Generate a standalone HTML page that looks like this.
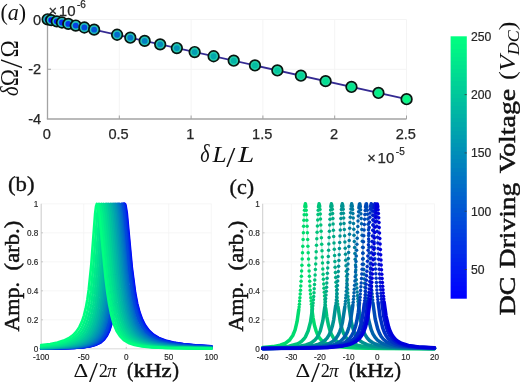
<!DOCTYPE html>
<html><head><meta charset="utf-8"><title>figure</title>
<style>html,body{margin:0;padding:0;background:#fff;width:520px;height:382px;overflow:hidden}svg{display:block}</style>
</head><body>
<svg width="520" height="382" viewBox="0 0 520 382">
<rect width="520" height="382" fill="#fff"/>
<line x1="119.30" y1="19.5" x2="119.30" y2="119.0" stroke="#f4f4f4" stroke-width="1"/>
<line x1="191.10" y1="19.5" x2="191.10" y2="119.0" stroke="#f4f4f4" stroke-width="1"/>
<line x1="262.90" y1="19.5" x2="262.90" y2="119.0" stroke="#f4f4f4" stroke-width="1"/>
<line x1="334.70" y1="19.5" x2="334.70" y2="119.0" stroke="#f4f4f4" stroke-width="1"/>
<line x1="406.50" y1="19.5" x2="406.50" y2="119.0" stroke="#f4f4f4" stroke-width="1"/>
<line x1="47.5" y1="19.50" x2="406.5" y2="19.50" stroke="#f4f4f4" stroke-width="1"/>
<line x1="47.5" y1="69.25" x2="406.5" y2="69.25" stroke="#f4f4f4" stroke-width="1"/>
<line x1="47.5" y1="19.5" x2="47.5" y2="119.0" stroke="#a3a3a3" stroke-width="1.3"/>
<line x1="46.85" y1="119.0" x2="406.5" y2="119.0" stroke="#a3a3a3" stroke-width="1.3"/>
<line x1="119.30" y1="119.0" x2="119.30" y2="115.5" stroke="#a3a3a3" stroke-width="1"/>
<line x1="191.10" y1="119.0" x2="191.10" y2="115.5" stroke="#a3a3a3" stroke-width="1"/>
<line x1="262.90" y1="119.0" x2="262.90" y2="115.5" stroke="#a3a3a3" stroke-width="1"/>
<line x1="334.70" y1="119.0" x2="334.70" y2="115.5" stroke="#a3a3a3" stroke-width="1"/>
<line x1="406.50" y1="119.0" x2="406.50" y2="115.5" stroke="#a3a3a3" stroke-width="1"/>
<line x1="47.5" y1="69.25" x2="51.0" y2="69.25" stroke="#a3a3a3" stroke-width="1"/>
<g font-family="'Liberation Sans', Arial, sans-serif" font-size="14.6" fill="#262626" stroke="#262626" stroke-width="0.25">
<text x="46.80" y="138.7" text-anchor="middle">0</text>
<text x="118.60" y="138.7" text-anchor="middle">0.5</text>
<text x="190.40" y="138.7" text-anchor="middle">1</text>
<text x="262.20" y="138.7" text-anchor="middle">1.5</text>
<text x="334.00" y="138.7" text-anchor="middle">2</text>
<text x="405.80" y="138.7" text-anchor="middle">2.5</text>
<text x="41.2" y="24.50" text-anchor="end">0</text>
<text x="41.2" y="74.25" text-anchor="end">-2</text>
<text x="41.2" y="124.00" text-anchor="end">-4</text>
<text x="48.4" y="15.6" font-size="14.7">&#215;</text>
<text x="58.8" y="15.6" font-size="15">10</text>
<text x="77.0" y="8.4" font-size="10">-6</text>
<text x="367.2" y="162.6" font-size="14.7">&#215;</text>
<text x="377.6" y="162.6" font-size="15">10</text>
<text x="395.8" y="155.4" font-size="10">-5</text>
</g>
<line x1="47.6" y1="19.3" x2="406.6" y2="99.2" stroke="#342a92" stroke-width="1.8"/>
<circle cx="47.60" cy="19.30" r="5.3" fill="#24bebc" stroke="#08150f" stroke-width="1.7"/>
<circle cx="47.60" cy="19.30" r="2.9" fill="#0413f8"/>
<circle cx="51.19" cy="20.10" r="5.3" fill="#24bebc" stroke="#08150f" stroke-width="1.7"/>
<circle cx="51.19" cy="20.10" r="2.9" fill="#0413f8"/>
<circle cx="56.79" cy="21.35" r="5.3" fill="#24bebc" stroke="#08150f" stroke-width="1.7"/>
<circle cx="56.79" cy="21.35" r="2.9" fill="#0422f0"/>
<circle cx="61.96" cy="22.50" r="5.3" fill="#24bebc" stroke="#08150f" stroke-width="1.7"/>
<circle cx="61.96" cy="22.50" r="2.9" fill="#042cec"/>
<circle cx="68.28" cy="23.90" r="5.3" fill="#24bebc" stroke="#08150f" stroke-width="1.7"/>
<circle cx="68.28" cy="23.90" r="2.9" fill="#0437e6"/>
<circle cx="75.75" cy="25.56" r="5.3" fill="#24bfbb" stroke="#08150f" stroke-width="1.7"/>
<circle cx="75.75" cy="25.56" r="2.9" fill="#0441e2"/>
<circle cx="84.36" cy="27.48" r="5.3" fill="#24bfbb" stroke="#08150f" stroke-width="1.7"/>
<circle cx="84.36" cy="27.48" r="2.9" fill="#044bdc"/>
<circle cx="94.13" cy="29.66" r="5.3" fill="#24c0ba" stroke="#08150f" stroke-width="1.7"/>
<circle cx="94.13" cy="29.66" r="2.9" fill="#0456d7"/>
<circle cx="117.10" cy="34.77" r="5.3" fill="#23c1b8" stroke="#08150f" stroke-width="1.7"/>
<circle cx="117.10" cy="34.77" r="2.9" fill="#046acd"/>
<circle cx="130.31" cy="37.71" r="5.3" fill="#23c2b7" stroke="#08150f" stroke-width="1.7"/>
<circle cx="130.31" cy="37.71" r="2.9" fill="#0475c7"/>
<circle cx="144.67" cy="40.90" r="5.3" fill="#23c4b5" stroke="#08150f" stroke-width="1.7"/>
<circle cx="144.67" cy="40.90" r="2.9" fill="#047fc2"/>
<circle cx="160.18" cy="44.36" r="5.3" fill="#23c5b3" stroke="#08150f" stroke-width="1.7"/>
<circle cx="160.18" cy="44.36" r="2.9" fill="#0489bd"/>
<circle cx="176.84" cy="48.06" r="5.3" fill="#23c7b1" stroke="#08150f" stroke-width="1.7"/>
<circle cx="176.84" cy="48.06" r="2.9" fill="#0494b7"/>
<circle cx="194.65" cy="52.03" r="5.3" fill="#22c9af" stroke="#08150f" stroke-width="1.7"/>
<circle cx="194.65" cy="52.03" r="2.9" fill="#039eb2"/>
<circle cx="213.60" cy="56.25" r="5.3" fill="#22cbad" stroke="#08150f" stroke-width="1.7"/>
<circle cx="213.60" cy="56.25" r="2.9" fill="#03a8ad"/>
<circle cx="233.71" cy="60.72" r="5.3" fill="#22cdaa" stroke="#08150f" stroke-width="1.7"/>
<circle cx="233.71" cy="60.72" r="2.9" fill="#03b3a7"/>
<circle cx="254.96" cy="65.45" r="5.3" fill="#21cfa7" stroke="#08150f" stroke-width="1.7"/>
<circle cx="254.96" cy="65.45" r="2.9" fill="#03bda2"/>
<circle cx="277.36" cy="70.44" r="5.3" fill="#21d2a3" stroke="#08150f" stroke-width="1.7"/>
<circle cx="277.36" cy="70.44" r="2.9" fill="#03c79d"/>
<circle cx="300.91" cy="75.68" r="5.3" fill="#20d5a0" stroke="#08150f" stroke-width="1.7"/>
<circle cx="300.91" cy="75.68" r="2.9" fill="#03d297"/>
<circle cx="325.61" cy="81.17" r="5.3" fill="#20d99c" stroke="#08150f" stroke-width="1.7"/>
<circle cx="325.61" cy="81.17" r="2.9" fill="#03dd91"/>
<circle cx="351.46" cy="86.93" r="5.3" fill="#1fdc98" stroke="#08150f" stroke-width="1.7"/>
<circle cx="351.46" cy="86.93" r="2.9" fill="#03e78c"/>
<circle cx="378.45" cy="92.94" r="5.3" fill="#1fe093" stroke="#08150f" stroke-width="1.7"/>
<circle cx="378.45" cy="92.94" r="2.9" fill="#03f286"/>
<circle cx="406.60" cy="99.20" r="5.3" fill="#1ee48e" stroke="#08150f" stroke-width="1.7"/>
<circle cx="406.60" cy="99.20" r="2.9" fill="#03fc81"/>
<text x="0.4" y="20.3" font-family="'Liberation Serif', 'Times New Roman', serif" font-size="22.5" fill="#111" textLength="25.6" lengthAdjust="spacingAndGlyphs">(<tspan font-style="italic">a</tspan>)</text>
<text transform="translate(17.8,96.0) rotate(-90)" font-family="'Liberation Serif', 'Times New Roman', serif" font-size="24.5" fill="#111" font-style="italic" textLength="9.56" lengthAdjust="spacingAndGlyphs">δ</text>
<text transform="translate(17.5,86.3) rotate(-90)" font-family="'Liberation Serif', 'Times New Roman', serif" font-size="24.4" fill="#111"  textLength="17.3" lengthAdjust="spacingAndGlyphs">Ω</text>
<text transform="translate(22.4,68.2) rotate(-90)" font-family="'Liberation Serif', 'Times New Roman', serif" font-size="31" fill="#111"  textLength="9.04" lengthAdjust="spacingAndGlyphs">/</text>
<text transform="translate(17.5,57.6) rotate(-90)" font-family="'Liberation Serif', 'Times New Roman', serif" font-size="24.4" fill="#111"  textLength="17.3" lengthAdjust="spacingAndGlyphs">Ω</text>
<text x="200.2" y="162.3" font-family="'Liberation Serif', 'Times New Roman', serif" font-size="24.5" fill="#111" font-style="italic" textLength="9.27" lengthAdjust="spacingAndGlyphs">δ</text>
<text x="212.5" y="162.0" font-family="'Liberation Serif', 'Times New Roman', serif" font-size="22.5" fill="#111" font-style="italic" textLength="14.12" lengthAdjust="spacingAndGlyphs">L</text>
<text x="226.3" y="166.5" font-family="'Liberation Serif', 'Times New Roman', serif" font-size="30" fill="#111"  textLength="9.1" lengthAdjust="spacingAndGlyphs">/</text>
<text x="238.0" y="162.0" font-family="'Liberation Serif', 'Times New Roman', serif" font-size="22.5" fill="#111" font-style="italic" textLength="16.23" lengthAdjust="spacingAndGlyphs">L</text>
<line x1="41.20" y1="203.8" x2="41.20" y2="348.8" stroke="#f4f4f4" stroke-width="0.8"/>
<line x1="83.73" y1="203.8" x2="83.73" y2="348.8" stroke="#f4f4f4" stroke-width="0.8"/>
<line x1="126.25" y1="203.8" x2="126.25" y2="348.8" stroke="#f4f4f4" stroke-width="0.8"/>
<line x1="168.78" y1="203.8" x2="168.78" y2="348.8" stroke="#f4f4f4" stroke-width="0.8"/>
<line x1="211.30" y1="203.8" x2="211.30" y2="348.8" stroke="#f4f4f4" stroke-width="0.8"/>
<line x1="41.2" y1="319.80" x2="211.3" y2="319.80" stroke="#f4f4f4" stroke-width="0.8"/>
<line x1="41.2" y1="290.80" x2="211.3" y2="290.80" stroke="#f4f4f4" stroke-width="0.8"/>
<line x1="41.2" y1="261.80" x2="211.3" y2="261.80" stroke="#f4f4f4" stroke-width="0.8"/>
<line x1="41.2" y1="232.80" x2="211.3" y2="232.80" stroke="#f4f4f4" stroke-width="0.8"/>
<line x1="41.2" y1="203.80" x2="211.3" y2="203.80" stroke="#f4f4f4" stroke-width="0.8"/>
<line x1="41.2" y1="203.8" x2="41.2" y2="348.8" stroke="#c4c4c4" stroke-width="0.8"/>
<line x1="41.2" y1="348.8" x2="211.3" y2="348.8" stroke="#d0d0d0" stroke-width="0.8"/>
<line x1="41.20" y1="348.8" x2="41.20" y2="347.00" stroke="#b8b8b8" stroke-width="0.7"/>
<line x1="83.73" y1="348.8" x2="83.73" y2="347.00" stroke="#b8b8b8" stroke-width="0.7"/>
<line x1="126.25" y1="348.8" x2="126.25" y2="347.00" stroke="#b8b8b8" stroke-width="0.7"/>
<line x1="168.78" y1="348.8" x2="168.78" y2="347.00" stroke="#b8b8b8" stroke-width="0.7"/>
<line x1="211.30" y1="348.8" x2="211.30" y2="347.00" stroke="#b8b8b8" stroke-width="0.7"/>
<line x1="41.2" y1="319.80" x2="43.00" y2="319.80" stroke="#b8b8b8" stroke-width="0.7"/>
<line x1="41.2" y1="290.80" x2="43.00" y2="290.80" stroke="#b8b8b8" stroke-width="0.7"/>
<line x1="41.2" y1="261.80" x2="43.00" y2="261.80" stroke="#b8b8b8" stroke-width="0.7"/>
<line x1="41.2" y1="232.80" x2="43.00" y2="232.80" stroke="#b8b8b8" stroke-width="0.7"/>
<g font-family="'Liberation Sans', Arial, sans-serif" font-size="8.2" fill="#262626" stroke="#262626" stroke-width="0.15">
<text x="41.20" y="360" text-anchor="middle">-100</text>
<text x="83.73" y="360" text-anchor="middle">-50</text>
<text x="126.25" y="360" text-anchor="middle">0</text>
<text x="168.78" y="360" text-anchor="middle">50</text>
<text x="211.30" y="360" text-anchor="middle">100</text>
<text x="38.40" y="351.80" text-anchor="end">0</text>
<text x="38.40" y="322.80" text-anchor="end">0.2</text>
<text x="38.40" y="293.80" text-anchor="end">0.4</text>
<text x="38.40" y="264.80" text-anchor="end">0.6</text>
<text x="38.40" y="235.80" text-anchor="end">0.8</text>
<text x="38.40" y="206.80" text-anchor="end">1</text>
</g>
<line x1="262.70" y1="203.8" x2="262.70" y2="348.8" stroke="#f4f4f4" stroke-width="0.8"/>
<line x1="291.33" y1="203.8" x2="291.33" y2="348.8" stroke="#f4f4f4" stroke-width="0.8"/>
<line x1="319.97" y1="203.8" x2="319.97" y2="348.8" stroke="#f4f4f4" stroke-width="0.8"/>
<line x1="348.60" y1="203.8" x2="348.60" y2="348.8" stroke="#f4f4f4" stroke-width="0.8"/>
<line x1="377.23" y1="203.8" x2="377.23" y2="348.8" stroke="#f4f4f4" stroke-width="0.8"/>
<line x1="405.87" y1="203.8" x2="405.87" y2="348.8" stroke="#f4f4f4" stroke-width="0.8"/>
<line x1="434.50" y1="203.8" x2="434.50" y2="348.8" stroke="#f4f4f4" stroke-width="0.8"/>
<line x1="262.7" y1="319.80" x2="434.5" y2="319.80" stroke="#f4f4f4" stroke-width="0.8"/>
<line x1="262.7" y1="290.80" x2="434.5" y2="290.80" stroke="#f4f4f4" stroke-width="0.8"/>
<line x1="262.7" y1="261.80" x2="434.5" y2="261.80" stroke="#f4f4f4" stroke-width="0.8"/>
<line x1="262.7" y1="232.80" x2="434.5" y2="232.80" stroke="#f4f4f4" stroke-width="0.8"/>
<line x1="262.7" y1="203.80" x2="434.5" y2="203.80" stroke="#f4f4f4" stroke-width="0.8"/>
<line x1="262.7" y1="203.8" x2="262.7" y2="348.8" stroke="#c4c4c4" stroke-width="0.8"/>
<line x1="262.7" y1="348.8" x2="434.5" y2="348.8" stroke="#d0d0d0" stroke-width="0.8"/>
<line x1="262.70" y1="348.8" x2="262.70" y2="347.00" stroke="#b8b8b8" stroke-width="0.7"/>
<line x1="291.33" y1="348.8" x2="291.33" y2="347.00" stroke="#b8b8b8" stroke-width="0.7"/>
<line x1="319.97" y1="348.8" x2="319.97" y2="347.00" stroke="#b8b8b8" stroke-width="0.7"/>
<line x1="348.60" y1="348.8" x2="348.60" y2="347.00" stroke="#b8b8b8" stroke-width="0.7"/>
<line x1="377.23" y1="348.8" x2="377.23" y2="347.00" stroke="#b8b8b8" stroke-width="0.7"/>
<line x1="405.87" y1="348.8" x2="405.87" y2="347.00" stroke="#b8b8b8" stroke-width="0.7"/>
<line x1="434.50" y1="348.8" x2="434.50" y2="347.00" stroke="#b8b8b8" stroke-width="0.7"/>
<line x1="262.7" y1="319.80" x2="264.50" y2="319.80" stroke="#b8b8b8" stroke-width="0.7"/>
<line x1="262.7" y1="290.80" x2="264.50" y2="290.80" stroke="#b8b8b8" stroke-width="0.7"/>
<line x1="262.7" y1="261.80" x2="264.50" y2="261.80" stroke="#b8b8b8" stroke-width="0.7"/>
<line x1="262.7" y1="232.80" x2="264.50" y2="232.80" stroke="#b8b8b8" stroke-width="0.7"/>
<g font-family="'Liberation Sans', Arial, sans-serif" font-size="8.2" fill="#262626" stroke="#262626" stroke-width="0.15">
<text x="262.70" y="360" text-anchor="middle">-40</text>
<text x="291.33" y="360" text-anchor="middle">-30</text>
<text x="319.97" y="360" text-anchor="middle">-20</text>
<text x="348.60" y="360" text-anchor="middle">-10</text>
<text x="377.23" y="360" text-anchor="middle">0</text>
<text x="405.87" y="360" text-anchor="middle">10</text>
<text x="434.50" y="360" text-anchor="middle">20</text>
<text x="259.90" y="351.80" text-anchor="end">0</text>
<text x="259.90" y="322.80" text-anchor="end">0.2</text>
<text x="259.90" y="293.80" text-anchor="end">0.4</text>
<text x="259.90" y="264.80" text-anchor="end">0.6</text>
<text x="259.90" y="235.80" text-anchor="end">0.8</text>
<text x="259.90" y="206.80" text-anchor="end">1</text>
</g>
<g fill="none" stroke-width="2.6" stroke-linejoin="round" stroke-linecap="round">
<polyline stroke="#0000ff" points="41.2,348.6 73.9,347.9 83.5,347.2 90.5,346.2 96.1,344.7 100.6,342.5 104.1,339.5 107.0,335.5 109.5,330.2 111.6,323.4 113.5,314.7 115.2,303.8 118.0,276.9 122.7,215.2 123.7,206.8 124.2,204.6 124.7,203.8 125.2,204.4 125.7,206.3 126.8,213.2 131.8,267.1 135.2,293.1 137.2,303.6 139.5,312.3 142.2,319.6 145.1,325.4 148.9,330.5 153.4,334.6 158.8,337.9 165.5,340.5 173.5,342.6 183.4,344.1 195.7,345.4 211.3,346.3"/>
<polyline stroke="#0011f6" points="41.2,348.6 73.7,347.9 83.2,347.2 90.3,346.2 95.9,344.6 100.2,342.4 103.8,339.3 106.7,335.3 109.2,329.9 111.3,323.0 113.2,314.2 114.8,303.7 117.6,276.8 122.3,215.0 123.3,206.7 123.8,204.5 124.3,203.8 124.8,204.5 125.3,206.4 126.3,213.3 131.4,267.3 134.8,293.3 136.8,303.8 139.1,312.6 141.7,319.8 144.7,325.6 148.4,330.7 153.0,334.8 158.4,338.1 165.0,340.7 173.1,342.7 183.1,344.3 195.6,345.5 211.3,346.4"/>
<polyline stroke="#001cf1" points="41.2,348.6 73.3,347.9 82.8,347.2 89.8,346.1 95.5,344.5 99.8,342.3 103.4,339.3 106.3,335.2 108.7,329.9 110.9,323.0 112.7,314.3 114.3,303.8 117.2,276.0 121.8,215.3 122.8,206.8 123.4,204.6 123.9,203.8 124.4,204.4 124.9,206.2 125.9,213.1 131.0,267.9 134.4,293.7 136.5,304.2 138.8,312.9 141.4,320.1 144.4,325.9 148.2,331.1 152.7,335.1 158.1,338.4 164.8,340.9 172.9,342.9 182.9,344.4 195.5,345.6 211.3,346.5"/>
<polyline stroke="#0028eb" points="41.2,348.5 73.0,347.8 82.4,347.1 89.4,346.1 95.0,344.5 99.4,342.2 102.9,339.1 105.8,335.0 108.3,329.6 110.4,322.7 112.3,313.9 113.9,303.3 116.7,276.3 121.3,215.5 122.3,206.9 122.8,204.6 123.4,203.8 123.9,204.4 124.4,206.2 125.4,212.9 130.5,267.7 133.9,293.8 135.9,304.3 138.2,313.1 140.9,320.3 143.9,326.3 147.8,331.4 152.3,335.4 157.7,338.6 164.4,341.1 172.5,343.1 182.6,344.6 195.3,345.7 211.3,346.6"/>
<polyline stroke="#0033e6" points="41.2,348.5 72.7,347.8 82.0,347.1 89.0,346.0 94.5,344.4 98.9,342.1 102.4,339.0 105.3,334.8 107.7,329.6 109.8,322.7 111.7,313.9 113.3,303.4 116.1,276.5 120.7,215.6 121.7,207.0 122.3,204.7 122.8,203.8 123.3,204.4 123.8,206.1 124.9,213.5 130.0,268.4 133.4,294.3 135.4,304.8 137.7,313.5 140.4,320.8 143.4,326.7 147.3,331.7 151.8,335.7 157.2,338.9 163.9,341.4 172.1,343.3 182.3,344.8 195.1,345.9 211.3,346.7"/>
<polyline stroke="#003ee0" points="41.2,348.5 72.2,347.8 81.4,347.0 88.3,345.9 93.8,344.3 98.2,342.0 101.8,338.9 104.6,334.7 107.1,329.3 109.2,322.3 111.1,313.4 112.7,302.8 115.5,275.6 120.0,215.7 121.1,207.0 121.6,204.7 122.1,203.8 122.6,204.3 123.1,206.1 124.2,213.4 129.3,268.3 131.0,282.9 132.8,294.9 134.8,305.4 137.1,314.1 139.8,321.2 142.8,327.1 146.7,332.1 151.2,336.0 156.7,339.2 163.4,341.6 171.7,343.5 181.9,344.9 194.8,346.0 211.3,346.8"/>
<polyline stroke="#004ada" points="41.2,348.5 71.6,347.7 80.8,346.9 87.7,345.8 93.3,344.1 97.6,341.8 101.1,338.6 104.0,334.5 106.3,329.2 108.5,322.2 110.3,313.3 112.0,302.8 114.8,275.7 119.3,215.8 120.3,207.1 120.8,204.7 121.3,203.8 121.8,204.3 122.3,206.1 123.4,213.4 128.6,269.0 132.0,295.0 134.1,305.6 136.5,314.6 139.1,321.7 142.2,327.5 146.0,332.5 150.5,336.4 156.0,339.5 162.8,341.9 171.1,343.7 181.4,345.1 194.5,346.2 211.3,347.0"/>
<polyline stroke="#0060cf" points="41.2,348.4 70.5,347.6 79.4,346.8 86.2,345.6 91.6,343.8 95.9,341.5 99.4,338.2 102.3,334.0 104.6,328.6 106.8,321.6 108.6,312.6 110.3,302.0 113.1,274.8 117.6,214.8 118.6,206.5 119.1,204.4 119.5,203.8 120.0,204.4 120.6,206.1 121.7,213.3 126.9,269.8 128.6,284.4 130.4,296.4 132.5,306.8 134.8,315.8 137.5,322.8 140.5,328.5 144.4,333.4 149.0,337.2 154.5,340.2 161.4,342.5 169.8,344.3 180.4,345.6 193.9,346.6 211.3,347.3"/>
<polyline stroke="#006cc9" points="41.2,348.4 69.8,347.5 78.6,346.6 85.3,345.4 90.7,343.6 95.0,341.2 98.4,337.9 101.3,333.6 103.7,328.2 105.8,321.4 107.6,312.5 109.2,301.9 112.0,274.7 116.6,214.7 117.6,206.4 118.1,204.3 118.5,203.8 119.0,204.4 119.5,206.1 120.7,214.1 125.9,269.9 127.6,284.5 129.4,296.6 131.5,307.5 133.8,316.1 136.5,323.2 139.6,329.1 143.4,333.9 148.0,337.6 153.6,340.6 160.5,342.9 169.0,344.5 179.7,345.8 193.4,346.7 211.3,347.4"/>
<polyline stroke="#0077c3" points="41.2,348.3 69.1,347.4 77.8,346.5 84.4,345.2 89.8,343.4 94.0,340.9 97.4,337.6 100.3,333.2 102.7,327.7 104.7,320.8 106.5,312.3 108.1,301.7 110.9,274.6 115.4,214.6 116.5,206.3 117.0,204.3 117.4,203.8 117.9,204.4 118.4,206.2 119.6,214.2 124.9,270.8 126.6,285.3 128.4,297.4 130.5,308.2 132.8,316.7 135.4,323.8 138.6,329.6 142.4,334.3 147.0,338.1 152.6,341.0 159.6,343.2 168.2,344.8 179.1,346.0 193.0,346.9 211.3,347.6"/>
<polyline stroke="#0082be" points="41.2,348.3 68.3,347.2 76.9,346.3 83.5,345.0 88.7,343.1 92.9,340.6 96.3,337.2 99.2,332.8 101.6,327.2 103.6,320.1 105.4,311.5 107.0,300.8 109.8,274.4 114.2,215.3 115.2,206.7 115.7,204.5 116.1,203.8 116.6,204.3 117.2,206.3 118.3,213.6 123.8,271.7 125.5,286.1 127.3,298.1 129.4,308.9 131.7,317.4 134.3,324.4 137.5,330.1 141.3,334.8 145.9,338.5 151.6,341.4 158.6,343.5 167.2,345.1 178.3,346.3 192.5,347.1 211.3,347.7"/>
<polyline stroke="#008eb8" points="41.2,348.2 67.5,347.1 75.9,346.1 82.4,344.8 87.6,342.9 91.7,340.3 95.1,336.8 98.0,332.3 100.3,326.8 102.4,319.8 104.1,311.2 105.8,300.5 108.5,274.2 112.9,215.1 113.9,206.5 114.4,204.4 114.9,203.8 115.4,204.4 116.0,206.4 117.1,214.4 122.5,271.8 124.2,286.3 126.0,298.4 128.1,309.2 130.4,317.8 133.1,325.0 136.3,330.7 140.1,335.3 144.8,339.0 150.4,341.7 157.5,343.8 166.2,345.3 177.4,346.5 191.9,347.3 211.3,347.8"/>
<polyline stroke="#0099b2" points="41.2,348.1 55.8,347.6 66.6,346.9 74.9,345.9 81.3,344.5 86.4,342.5 90.5,339.8 93.9,336.3 96.7,331.7 99.0,326.2 101.1,319.1 102.9,310.3 104.4,300.2 107.1,273.9 111.5,214.8 112.6,206.4 113.1,204.3 113.5,203.8 114.0,204.4 114.6,206.5 115.8,214.6 121.1,271.9 122.9,287.2 124.7,299.2 126.8,310.0 129.1,318.5 131.9,325.6 135.0,331.2 138.8,335.8 143.5,339.4 149.2,342.1 156.3,344.1 165.1,345.6 176.5,346.7 191.4,347.4 211.3,347.9"/>
<polyline stroke="#00a4ad" points="41.2,348.0 55.3,347.5 65.8,346.7 73.8,345.7 80.1,344.2 85.1,342.1 89.2,339.4 92.6,335.7 95.4,331.1 97.7,325.5 99.7,318.2 101.5,309.4 103.0,299.1 105.8,272.5 110.1,214.5 111.0,206.6 111.5,204.4 112.0,203.8 112.5,204.3 113.1,206.3 114.3,214.1 119.8,272.9 121.6,288.0 123.4,300.0 125.5,310.7 127.8,319.1 130.5,326.2 133.6,331.8 137.5,336.3 142.2,339.8 147.9,342.5 155.1,344.4 164.0,345.9 175.6,346.9 190.8,347.6 211.3,348.1"/>
<polyline stroke="#00b0a7" points="41.2,347.9 54.7,347.3 64.8,346.5 72.7,345.3 78.8,343.8 83.8,341.6 87.8,338.8 91.1,335.2 93.9,330.4 96.2,324.7 98.2,317.7 100.0,308.9 101.5,298.6 104.2,272.1 108.6,214.1 109.5,206.4 110.0,204.3 110.4,203.8 110.9,204.4 111.5,206.5 112.7,214.3 118.3,273.0 120.0,288.2 121.8,300.2 124.0,311.1 126.3,319.8 129.1,326.8 132.2,332.3 136.0,336.8 140.7,340.2 146.5,342.8 153.7,344.7 162.7,346.1 174.5,347.1 211.3,348.2"/>
<polyline stroke="#00bba2" points="41.2,347.7 54.1,347.1 63.9,346.2 71.5,345.0 77.5,343.3 82.4,341.1 86.4,338.1 89.8,334.3 92.5,329.5 94.7,323.8 96.7,316.7 98.4,307.8 100.0,297.4 102.6,271.6 106.9,214.6 107.8,206.6 108.3,204.4 108.7,203.8 109.2,204.3 109.8,206.3 111.1,214.6 116.7,274.0 118.5,289.1 120.3,301.0 122.4,311.8 124.8,320.5 127.5,327.4 130.8,333.0 134.7,337.4 139.3,340.7 145.1,343.2 152.4,345.0 161.5,346.3 173.4,347.2 211.3,348.2"/>
<polyline stroke="#00c69c" points="41.2,347.5 53.4,346.8 62.9,345.8 70.3,344.5 76.2,342.8 81.0,340.4 84.9,337.4 88.1,333.5 90.9,328.6 93.1,322.9 95.0,315.7 96.7,307.1 98.3,296.8 100.9,271.0 105.2,214.1 106.1,206.3 106.9,203.8 107.5,204.5 108.1,206.5 109.4,214.9 115.0,274.2 116.8,289.4 118.7,301.9 120.8,312.5 123.2,321.1 125.9,328.0 129.1,333.5 133.1,337.9 137.7,341.1 143.5,343.5 150.8,345.3 160.0,346.5 172.2,347.4 211.3,348.3"/>
<polyline stroke="#00d296" points="41.2,347.2 52.8,346.4 61.8,345.4 68.9,344.0 74.6,342.2 79.3,339.8 83.2,336.7 86.4,332.7 89.2,327.7 91.4,321.8 93.3,314.9 95.0,306.3 96.5,296.0 99.1,270.3 103.3,214.5 104.2,206.5 104.7,204.3 105.2,203.8 105.8,204.6 106.3,206.7 107.6,215.2 113.2,274.4 115.0,289.6 116.9,302.2 119.0,312.9 121.5,321.8 124.2,328.6 127.4,334.1 131.4,338.3 136.0,341.5 141.8,343.8 149.2,345.6 158.6,346.7 170.9,347.5 211.3,348.4"/>
<polyline stroke="#00dd90" points="41.2,346.9 52.2,346.0 60.8,344.9 67.7,343.4 73.3,341.4 77.9,338.9 81.6,335.7 84.7,331.6 87.5,326.4 89.7,320.4 91.5,313.2 93.2,304.9 94.7,294.5 97.3,268.5 101.4,213.9 102.4,206.2 102.8,204.4 103.2,203.8 103.8,204.5 104.4,206.6 105.7,214.8 111.5,275.5 113.2,290.5 115.1,303.0 117.2,313.6 119.7,322.4 122.4,329.2 125.7,334.6 129.6,338.8 134.2,341.9 140.1,344.2 147.6,345.8 157.0,346.9 169.5,347.7 211.3,348.5"/>
<polyline stroke="#00e88b" points="41.2,346.4 51.5,345.5 59.7,344.2 66.4,342.6 71.7,340.5 76.2,337.9 79.9,334.5 83.0,330.3 85.7,325.0 87.8,319.0 89.7,311.8 91.3,303.4 92.8,292.8 95.4,267.6 99.4,214.2 100.3,206.3 100.7,204.4 101.2,203.8 101.8,204.5 102.4,206.5 103.7,215.2 109.6,276.5 111.4,291.4 113.2,303.8 115.4,314.3 117.8,323.1 120.6,329.9 123.9,335.2 127.8,339.3 132.5,342.3 138.3,344.5 145.9,346.1 155.4,347.1 168.2,347.8 211.3,348.5"/>
<polyline stroke="#00f485" points="41.2,345.9 50.8,344.8 58.6,343.4 65.0,341.7 70.2,339.5 74.5,336.7 78.2,333.1 81.3,328.7 83.8,323.4 85.9,317.5 87.7,310.2 89.3,301.7 90.8,291.7 93.3,266.6 97.3,213.5 98.2,206.4 99.0,203.8 99.6,204.5 100.2,206.4 101.6,215.0 107.5,276.8 109.3,291.7 111.2,304.1 113.4,315.0 115.8,323.4 118.6,330.3 121.9,335.7 125.7,339.6 130.5,342.6 136.5,344.8 144.0,346.3 153.6,347.3 166.6,347.9 211.3,348.6"/>
<polyline stroke="#00ff80" points="41.2,345.1 50.2,344.0 57.5,342.5 63.6,340.6 68.6,338.2 72.8,335.3 76.3,331.6 79.3,327.1 81.9,321.6 83.9,315.6 85.7,308.4 87.3,299.8 88.7,289.7 91.2,265.5 95.1,213.6 96.0,206.4 96.8,203.8 97.4,204.4 98.1,206.7 99.5,215.4 105.4,277.0 107.3,292.6 109.2,304.8 111.4,315.7 113.8,324.3 116.6,331.0 119.9,336.1 123.8,340.1 128.5,342.9 134.5,345.0 142.1,346.5 151.8,347.4 164.9,348.0 211.3,348.6"/>
</g>
<polyline fill="none" stroke="#00db6e" stroke-opacity="0.55" stroke-width="0.7" points="262.7,347.5 270.7,346.9 277.0,346.0 281.9,344.7 285.9,342.9 289.0,340.6 291.6,337.4 293.6,333.7 295.3,328.8 296.8,322.9 297.9,316.2 299.9,297.8 301.6,270.9 304.2,214.7 304.8,206.7 305.4,203.8 305.9,206.7 306.5,214.7 309.9,285.9 311.9,309.6 313.4,319.8 315.4,328.8 317.7,334.9 319.1,337.4 320.8,339.7 322.5,341.3 324.5,342.7 329.1,344.8 335.4,346.3 344.0,347.3 355.5,347.9 372.1,348.3 434.5,348.7"/>
<polyline fill="none" stroke="#00db6e" stroke-width="3.5" stroke-linejoin="round" stroke-linecap="round" points="262.7,347.5 273.0,346.6 280.2,345.2 285.6,343.1 289.6,340.0 292.8,335.5 295.1,329.8 297.1,321.4 298.8,309.6"/>
<polyline fill="none" stroke="#00db6e" stroke-width="3.5" stroke-linejoin="round" stroke-linecap="round" points="304.8,206.7 305.4,203.8 305.9,206.7"/>
<polyline fill="none" stroke="#00db6e" stroke-width="3.5" stroke-linejoin="round" stroke-linecap="round" points="311.9,309.6 313.1,318.1 314.5,325.5 316.0,330.6 317.7,334.9 319.7,338.3 322.3,341.1 325.4,343.2 329.4,344.9 334.0,346.0 339.4,346.8 355.8,347.9 383.2,348.4 434.5,348.7"/>
<g fill="#00db6e"><circle cx="299.1" cy="307.0" r="1.75"/><circle cx="299.4" cy="304.2" r="1.75"/><circle cx="299.6" cy="301.1" r="1.75"/><circle cx="299.9" cy="297.8" r="1.75"/><circle cx="300.2" cy="294.1" r="1.75"/><circle cx="300.5" cy="290.2" r="1.75"/><circle cx="300.8" cy="285.9" r="1.75"/><circle cx="301.1" cy="281.3" r="1.75"/><circle cx="301.4" cy="276.3" r="1.75"/><circle cx="301.6" cy="270.9" r="1.75"/><circle cx="301.9" cy="265.2" r="1.75"/><circle cx="302.2" cy="259.1" r="1.75"/><circle cx="302.5" cy="252.8" r="1.75"/><circle cx="302.8" cy="246.2" r="1.75"/><circle cx="303.1" cy="239.5" r="1.75"/><circle cx="303.4" cy="232.8" r="1.75"/><circle cx="303.6" cy="226.3" r="1.75"/><circle cx="303.9" cy="220.2" r="1.75"/><circle cx="304.2" cy="214.7" r="1.75"/><circle cx="304.5" cy="210.2" r="1.75"/><circle cx="306.2" cy="210.2" r="1.75"/><circle cx="306.5" cy="214.7" r="1.75"/><circle cx="306.8" cy="220.2" r="1.75"/><circle cx="307.1" cy="226.3" r="1.75"/><circle cx="307.4" cy="232.8" r="1.75"/><circle cx="307.7" cy="239.5" r="1.75"/><circle cx="307.9" cy="246.2" r="1.75"/><circle cx="308.2" cy="252.8" r="1.75"/><circle cx="308.5" cy="259.1" r="1.75"/><circle cx="308.8" cy="265.2" r="1.75"/><circle cx="309.1" cy="270.9" r="1.75"/><circle cx="309.4" cy="276.3" r="1.75"/><circle cx="309.7" cy="281.3" r="1.75"/><circle cx="309.9" cy="285.9" r="1.75"/><circle cx="310.2" cy="290.2" r="1.75"/><circle cx="310.5" cy="294.1" r="1.75"/><circle cx="310.8" cy="297.8" r="1.75"/><circle cx="311.1" cy="301.1" r="1.75"/><circle cx="311.4" cy="304.2" r="1.75"/><circle cx="311.7" cy="307.0" r="1.75"/></g>
<polyline fill="none" stroke="#00c37a" stroke-opacity="0.55" stroke-width="0.7" points="262.7,348.0 274.7,347.6 283.6,346.9 290.5,345.9 295.6,344.5 299.6,342.6 302.8,340.2 305.4,337.0 307.7,332.4 309.4,327.0 310.8,320.4 312.2,310.8 313.4,299.8 315.1,275.0 318.0,214.6 318.5,206.8 319.1,203.8 319.7,206.4 320.3,213.9 323.4,279.3 324.5,296.0 325.7,308.1 327.1,318.6 329.1,327.9 331.4,334.3 334.0,338.5 335.7,340.4 337.4,341.9 339.4,343.1 341.7,344.2 347.5,345.8 355.5,347.0 365.8,347.7 380.7,348.2 434.5,348.6"/>
<polyline fill="none" stroke="#00c37a" stroke-width="3.5" stroke-linejoin="round" stroke-linecap="round" points="262.7,348.0 278.4,347.3 288.8,346.2 296.2,344.3 299.1,343.0 301.4,341.5 303.6,339.3 305.4,337.0 308.2,330.8 310.5,322.0 312.5,308.4"/>
<polyline fill="none" stroke="#00c37a" stroke-width="3.5" stroke-linejoin="round" stroke-linecap="round" points="318.5,206.8 319.1,203.8 319.7,206.4"/>
<polyline fill="none" stroke="#00c37a" stroke-width="3.5" stroke-linejoin="round" stroke-linecap="round" points="325.7,308.1 326.8,316.8 328.3,324.5 329.7,329.8 331.4,334.3 333.4,337.8 335.7,340.4 338.6,342.6 342.3,344.4 346.3,345.6 351.5,346.5 366.4,347.7 390.7,348.3 434.5,348.6"/>
<g fill="#00c37a"><circle cx="312.8" cy="305.8" r="1.75"/><circle cx="313.1" cy="302.9" r="1.75"/><circle cx="313.4" cy="299.8" r="1.75"/><circle cx="313.7" cy="296.5" r="1.75"/><circle cx="314.0" cy="292.8" r="1.75"/><circle cx="314.2" cy="288.8" r="1.75"/><circle cx="314.5" cy="284.6" r="1.75"/><circle cx="314.8" cy="279.9" r="1.75"/><circle cx="315.1" cy="275.0" r="1.75"/><circle cx="315.4" cy="269.6" r="1.75"/><circle cx="315.7" cy="264.0" r="1.75"/><circle cx="316.0" cy="258.0" r="1.75"/><circle cx="316.2" cy="251.7" r="1.75"/><circle cx="316.5" cy="245.3" r="1.75"/><circle cx="316.8" cy="238.7" r="1.75"/><circle cx="317.1" cy="232.2" r="1.75"/><circle cx="317.4" cy="225.9" r="1.75"/><circle cx="317.7" cy="219.9" r="1.75"/><circle cx="318.0" cy="214.6" r="1.75"/><circle cx="318.2" cy="210.2" r="1.75"/><circle cx="320.0" cy="209.6" r="1.75"/><circle cx="320.3" cy="213.9" r="1.75"/><circle cx="320.5" cy="219.1" r="1.75"/><circle cx="320.8" cy="225.0" r="1.75"/><circle cx="321.1" cy="231.3" r="1.75"/><circle cx="321.4" cy="237.8" r="1.75"/><circle cx="321.7" cy="244.3" r="1.75"/><circle cx="322.0" cy="250.8" r="1.75"/><circle cx="322.3" cy="257.1" r="1.75"/><circle cx="322.5" cy="263.1" r="1.75"/><circle cx="322.8" cy="268.9" r="1.75"/><circle cx="323.1" cy="274.2" r="1.75"/><circle cx="323.4" cy="279.3" r="1.75"/><circle cx="323.7" cy="283.9" r="1.75"/><circle cx="324.0" cy="288.3" r="1.75"/><circle cx="324.3" cy="292.3" r="1.75"/><circle cx="324.5" cy="296.0" r="1.75"/><circle cx="324.8" cy="299.4" r="1.75"/><circle cx="325.1" cy="302.5" r="1.75"/><circle cx="325.4" cy="305.4" r="1.75"/></g>
<polyline fill="none" stroke="#00aa86" stroke-opacity="0.55" stroke-width="0.7" points="262.7,348.3 278.4,347.9 289.9,347.3 298.2,346.5 304.5,345.4 309.4,343.7 313.4,341.4 316.2,338.5 318.8,334.3 320.8,329.2 322.5,322.4 324.0,314.0 325.4,301.5 327.4,273.3 330.3,214.2 330.8,206.7 331.4,203.8 332.0,206.2 332.6,213.5 335.7,277.5 336.9,294.4 338.0,306.7 339.4,317.4 341.2,326.0 343.4,333.0 346.0,337.7 347.5,339.5 349.2,341.1 351.2,342.5 353.5,343.7 358.6,345.4 365.8,346.7 375.2,347.5 388.1,348.0 434.5,348.6"/>
<polyline fill="none" stroke="#00aa86" stroke-width="3.5" stroke-linejoin="round" stroke-linecap="round" points="262.7,348.3 283.6,347.7 297.1,346.7 305.9,345.0 309.4,343.7 312.2,342.2 314.8,340.1 316.8,337.8 318.5,334.9 320.3,330.9 322.8,320.9 324.8,307.1"/>
<polyline fill="none" stroke="#00aa86" stroke-width="3.5" stroke-linejoin="round" stroke-linecap="round" points="330.8,206.7 331.4,203.8 332.0,206.2"/>
<polyline fill="none" stroke="#00aa86" stroke-width="3.5" stroke-linejoin="round" stroke-linecap="round" points="338.0,306.7 340.3,322.2 341.7,328.1 343.4,333.0 345.5,336.8 347.7,339.8 350.3,342.0 353.8,343.8 357.5,345.1 362.3,346.2 375.5,347.5 397.0,348.2 434.5,348.6"/>
<g fill="#00aa86"><circle cx="325.1" cy="304.4" r="1.75"/><circle cx="325.4" cy="301.5" r="1.75"/><circle cx="325.7" cy="298.4" r="1.75"/><circle cx="326.0" cy="294.9" r="1.75"/><circle cx="326.3" cy="291.3" r="1.75"/><circle cx="326.6" cy="287.3" r="1.75"/><circle cx="326.8" cy="283.0" r="1.75"/><circle cx="327.1" cy="278.3" r="1.75"/><circle cx="327.4" cy="273.3" r="1.75"/><circle cx="327.7" cy="268.0" r="1.75"/><circle cx="328.0" cy="262.4" r="1.75"/><circle cx="328.3" cy="256.5" r="1.75"/><circle cx="328.6" cy="250.3" r="1.75"/><circle cx="328.8" cy="244.0" r="1.75"/><circle cx="329.1" cy="237.6" r="1.75"/><circle cx="329.4" cy="231.2" r="1.75"/><circle cx="329.7" cy="225.1" r="1.75"/><circle cx="330.0" cy="219.3" r="1.75"/><circle cx="330.3" cy="214.2" r="1.75"/><circle cx="330.6" cy="209.9" r="1.75"/><circle cx="332.3" cy="209.3" r="1.75"/><circle cx="332.6" cy="213.5" r="1.75"/><circle cx="332.9" cy="218.5" r="1.75"/><circle cx="333.1" cy="224.1" r="1.75"/><circle cx="333.4" cy="230.2" r="1.75"/><circle cx="333.7" cy="236.5" r="1.75"/><circle cx="334.0" cy="243.0" r="1.75"/><circle cx="334.3" cy="249.3" r="1.75"/><circle cx="334.6" cy="255.5" r="1.75"/><circle cx="334.9" cy="261.5" r="1.75"/><circle cx="335.1" cy="267.2" r="1.75"/><circle cx="335.4" cy="272.5" r="1.75"/><circle cx="335.7" cy="277.5" r="1.75"/><circle cx="336.0" cy="282.2" r="1.75"/><circle cx="336.3" cy="286.6" r="1.75"/><circle cx="336.6" cy="290.6" r="1.75"/><circle cx="336.9" cy="294.4" r="1.75"/><circle cx="337.1" cy="297.8" r="1.75"/><circle cx="337.4" cy="301.0" r="1.75"/><circle cx="337.7" cy="304.0" r="1.75"/></g>
<polyline fill="none" stroke="#009292" stroke-opacity="0.55" stroke-width="0.7" points="262.7,348.4 281.9,348.1 295.3,347.6 305.1,346.9 312.5,345.8 318.2,344.3 322.5,342.3 326.0,339.4 327.4,337.7 328.8,335.4 331.1,330.1 333.1,322.7 334.6,314.7 336.0,302.9 338.0,276.4 341.2,213.6 341.7,206.4 342.3,203.8 342.9,206.3 343.4,213.3 346.6,276.2 347.7,293.0 348.9,305.5 350.3,316.4 352.0,325.1 354.0,331.7 356.6,336.8 358.0,338.8 359.8,340.5 363.5,343.1 368.4,345.0 374.9,346.3 383.5,347.2 395.0,347.8 434.5,348.5"/>
<polyline fill="none" stroke="#009292" stroke-width="3.5" stroke-linejoin="round" stroke-linecap="round" points="262.7,348.4 288.8,347.9 304.5,347.0 314.8,345.3 318.8,344.1 322.0,342.6 324.8,340.5 327.1,338.1 329.1,334.9 330.8,330.9 332.3,326.3 333.7,319.8 335.7,305.6"/>
<polyline fill="none" stroke="#009292" stroke-width="3.5" stroke-linejoin="round" stroke-linecap="round" points="341.7,206.4 342.3,203.8 342.9,206.3"/>
<polyline fill="none" stroke="#009292" stroke-width="3.5" stroke-linejoin="round" stroke-linecap="round" points="348.9,305.5 351.2,321.2 352.6,327.3 354.0,331.7 355.8,335.4 358.0,338.8 360.6,341.2 363.8,343.2 367.2,344.6 371.5,345.7 383.5,347.2 402.4,348.1 434.5,348.5"/>
<g fill="#009292"><circle cx="336.0" cy="302.9" r="1.75"/><circle cx="336.3" cy="299.9" r="1.75"/><circle cx="336.6" cy="296.7" r="1.75"/><circle cx="336.9" cy="293.2" r="1.75"/><circle cx="337.1" cy="289.5" r="1.75"/><circle cx="337.4" cy="285.5" r="1.75"/><circle cx="337.7" cy="281.1" r="1.75"/><circle cx="338.0" cy="276.4" r="1.75"/><circle cx="338.3" cy="271.5" r="1.75"/><circle cx="338.6" cy="266.2" r="1.75"/><circle cx="338.9" cy="260.6" r="1.75"/><circle cx="339.2" cy="254.7" r="1.75"/><circle cx="339.4" cy="248.6" r="1.75"/><circle cx="339.7" cy="242.4" r="1.75"/><circle cx="340.0" cy="236.1" r="1.75"/><circle cx="340.3" cy="229.9" r="1.75"/><circle cx="340.6" cy="224.0" r="1.75"/><circle cx="340.9" cy="218.5" r="1.75"/><circle cx="341.2" cy="213.6" r="1.75"/><circle cx="341.4" cy="209.5" r="1.75"/><circle cx="343.2" cy="209.3" r="1.75"/><circle cx="343.4" cy="213.3" r="1.75"/><circle cx="343.7" cy="218.1" r="1.75"/><circle cx="344.0" cy="223.6" r="1.75"/><circle cx="344.3" cy="229.5" r="1.75"/><circle cx="344.6" cy="235.7" r="1.75"/><circle cx="344.9" cy="242.0" r="1.75"/><circle cx="345.2" cy="248.2" r="1.75"/><circle cx="345.5" cy="254.3" r="1.75"/><circle cx="345.7" cy="260.2" r="1.75"/><circle cx="346.0" cy="265.8" r="1.75"/><circle cx="346.3" cy="271.2" r="1.75"/><circle cx="346.6" cy="276.2" r="1.75"/><circle cx="346.9" cy="280.8" r="1.75"/><circle cx="347.2" cy="285.2" r="1.75"/><circle cx="347.5" cy="289.3" r="1.75"/><circle cx="347.7" cy="293.0" r="1.75"/><circle cx="348.0" cy="296.5" r="1.75"/><circle cx="348.3" cy="299.7" r="1.75"/><circle cx="348.6" cy="302.7" r="1.75"/></g>
<polyline fill="none" stroke="#007a9e" stroke-opacity="0.55" stroke-width="0.7" points="262.7,348.4 300.5,347.7 311.7,347.1 319.7,346.1 326.0,344.7 330.8,342.7 332.9,341.4 334.6,339.9 337.4,336.3 340.0,330.9 342.0,324.2 343.7,315.2 345.2,304.0 346.3,291.3 347.5,274.3 350.6,212.7 351.2,206.0 351.7,203.8 352.3,206.4 352.9,213.4 356.0,275.1 357.2,291.9 358.3,304.4 359.8,315.5 361.2,323.2 363.2,330.3 365.5,335.4 368.4,339.4 371.8,342.2 376.4,344.3 382.4,345.9 389.8,346.9 400.1,347.6 414.2,348.1 434.5,348.4"/>
<polyline fill="none" stroke="#007a9e" stroke-width="3.5" stroke-linejoin="round" stroke-linecap="round" points="262.7,348.4 292.8,348.0 310.8,347.1 322.3,345.7 326.6,344.5 330.0,343.1 333.1,341.1 335.7,338.7 338.0,335.3 339.7,331.7 341.2,327.5 342.6,321.6 344.9,306.6"/>
<polyline fill="none" stroke="#007a9e" stroke-width="3.5" stroke-linejoin="round" stroke-linecap="round" points="351.2,206.0 351.7,203.8 352.3,206.4"/>
<polyline fill="none" stroke="#007a9e" stroke-width="3.5" stroke-linejoin="round" stroke-linecap="round" points="358.3,304.4 360.6,320.4 362.1,326.6 363.5,331.1 365.2,334.9 367.2,338.0 369.5,340.5 372.4,342.5 375.5,344.0 379.5,345.3 384.4,346.2 390.4,347.0 407.0,347.9 434.5,348.4"/>
<g fill="#007a9e"><circle cx="345.2" cy="304.0" r="1.75"/><circle cx="345.5" cy="301.2" r="1.75"/><circle cx="345.7" cy="298.1" r="1.75"/><circle cx="346.0" cy="294.9" r="1.75"/><circle cx="346.3" cy="291.3" r="1.75"/><circle cx="346.6" cy="287.5" r="1.75"/><circle cx="346.9" cy="283.4" r="1.75"/><circle cx="347.2" cy="279.0" r="1.75"/><circle cx="347.5" cy="274.3" r="1.75"/><circle cx="347.7" cy="269.3" r="1.75"/><circle cx="348.0" cy="264.0" r="1.75"/><circle cx="348.3" cy="258.4" r="1.75"/><circle cx="348.6" cy="252.6" r="1.75"/><circle cx="348.9" cy="246.6" r="1.75"/><circle cx="349.2" cy="240.5" r="1.75"/><circle cx="349.5" cy="234.3" r="1.75"/><circle cx="349.7" cy="228.3" r="1.75"/><circle cx="350.0" cy="222.6" r="1.75"/><circle cx="350.3" cy="217.3" r="1.75"/><circle cx="350.6" cy="212.7" r="1.75"/><circle cx="350.9" cy="208.9" r="1.75"/><circle cx="352.6" cy="209.4" r="1.75"/><circle cx="352.9" cy="213.4" r="1.75"/><circle cx="353.2" cy="218.1" r="1.75"/><circle cx="353.5" cy="223.5" r="1.75"/><circle cx="353.8" cy="229.3" r="1.75"/><circle cx="354.0" cy="235.3" r="1.75"/><circle cx="354.3" cy="241.4" r="1.75"/><circle cx="354.6" cy="247.6" r="1.75"/><circle cx="354.9" cy="253.5" r="1.75"/><circle cx="355.2" cy="259.3" r="1.75"/><circle cx="355.5" cy="264.9" r="1.75"/><circle cx="355.8" cy="270.1" r="1.75"/><circle cx="356.0" cy="275.1" r="1.75"/><circle cx="356.3" cy="279.7" r="1.75"/><circle cx="356.6" cy="284.1" r="1.75"/><circle cx="356.9" cy="288.1" r="1.75"/><circle cx="357.2" cy="291.9" r="1.75"/><circle cx="357.5" cy="295.4" r="1.75"/><circle cx="357.8" cy="298.6" r="1.75"/><circle cx="358.0" cy="301.6" r="1.75"/></g>
<polyline fill="none" stroke="#0061aa" stroke-opacity="0.55" stroke-width="0.7" points="262.7,348.5 304.5,347.8 316.8,347.2 325.7,346.3 332.6,344.9 337.7,343.0 339.7,341.8 341.7,340.3 343.4,338.5 344.9,336.6 347.5,331.6 349.7,324.3 351.5,315.6 352.9,304.8 354.0,292.8 355.2,276.7 358.6,211.7 359.2,205.6 359.5,204.1 359.8,203.8 360.3,206.7 360.9,213.7 364.1,274.3 365.2,291.0 366.4,303.5 367.8,314.7 369.2,322.5 370.9,328.9 373.2,334.4 375.8,338.4 377.5,340.2 379.2,341.5 383.2,343.7 388.7,345.4 395.6,346.6 404.7,347.4 417.0,347.9 434.5,348.3"/>
<polyline fill="none" stroke="#0061aa" stroke-width="3.5" stroke-linejoin="round" stroke-linecap="round" points="262.7,348.5 296.5,348.1 316.5,347.3 329.1,345.7 333.7,344.6 337.4,343.1 340.6,341.2 343.4,338.5 345.7,335.2 347.5,331.6 349.2,326.5 350.6,320.4 352.9,304.8"/>
<polyline fill="none" stroke="#0061aa" stroke-width="3.5" stroke-linejoin="round" stroke-linecap="round" points="358.9,208.1 359.5,204.1 359.8,203.8 360.3,206.7"/>
<polyline fill="none" stroke="#0061aa" stroke-width="3.5" stroke-linejoin="round" stroke-linecap="round" points="366.4,303.5 368.6,319.7 371.2,329.7 372.9,333.9 374.9,337.2 377.2,339.9 379.8,341.9 382.7,343.5 386.4,344.8 390.7,345.8 396.1,346.6 410.7,347.7 434.5,348.3"/>
<g fill="#0061aa"><circle cx="353.2" cy="302.2" r="1.75"/><circle cx="353.5" cy="299.3" r="1.75"/><circle cx="353.8" cy="296.2" r="1.75"/><circle cx="354.0" cy="292.8" r="1.75"/><circle cx="354.3" cy="289.2" r="1.75"/><circle cx="354.6" cy="285.3" r="1.75"/><circle cx="354.9" cy="281.1" r="1.75"/><circle cx="355.2" cy="276.7" r="1.75"/><circle cx="355.5" cy="271.9" r="1.75"/><circle cx="355.8" cy="266.9" r="1.75"/><circle cx="356.0" cy="261.6" r="1.75"/><circle cx="356.3" cy="256.0" r="1.75"/><circle cx="356.6" cy="250.2" r="1.75"/><circle cx="356.9" cy="244.3" r="1.75"/><circle cx="357.2" cy="238.3" r="1.75"/><circle cx="357.5" cy="232.3" r="1.75"/><circle cx="357.8" cy="226.5" r="1.75"/><circle cx="358.0" cy="221.0" r="1.75"/><circle cx="358.3" cy="216.0" r="1.75"/><circle cx="358.6" cy="211.7" r="1.75"/><circle cx="360.6" cy="209.8" r="1.75"/><circle cx="360.9" cy="213.7" r="1.75"/><circle cx="361.2" cy="218.4" r="1.75"/><circle cx="361.5" cy="223.7" r="1.75"/><circle cx="361.8" cy="229.4" r="1.75"/><circle cx="362.1" cy="235.3" r="1.75"/><circle cx="362.3" cy="241.3" r="1.75"/><circle cx="362.6" cy="247.3" r="1.75"/><circle cx="362.9" cy="253.1" r="1.75"/><circle cx="363.2" cy="258.8" r="1.75"/><circle cx="363.5" cy="264.3" r="1.75"/><circle cx="363.8" cy="269.4" r="1.75"/><circle cx="364.1" cy="274.3" r="1.75"/><circle cx="364.3" cy="278.9" r="1.75"/><circle cx="364.6" cy="283.3" r="1.75"/><circle cx="364.9" cy="287.3" r="1.75"/><circle cx="365.2" cy="291.0" r="1.75"/><circle cx="365.5" cy="294.5" r="1.75"/><circle cx="365.8" cy="297.7" r="1.75"/><circle cx="366.1" cy="300.7" r="1.75"/></g>
<polyline fill="none" stroke="#0049b6" stroke-opacity="0.55" stroke-width="0.7" points="262.7,348.5 308.2,347.9 321.4,347.3 330.8,346.4 338.0,345.1 343.4,343.2 345.7,341.9 347.7,340.4 350.9,336.9 353.5,332.2 355.8,325.4 357.5,317.5 359.2,305.5 360.6,290.5 361.8,274.1 364.9,214.5 365.8,205.1 366.1,204.0 366.4,203.9 366.9,207.2 367.5,214.3 370.6,273.9 372.7,300.0 374.1,312.1 375.5,320.5 377.2,327.4 379.5,333.4 382.1,337.7 385.3,340.9 389.3,343.3 394.1,345.0 400.4,346.2 408.7,347.1 419.6,347.7 434.5,348.2"/>
<polyline fill="none" stroke="#0049b6" stroke-width="3.5" stroke-linejoin="round" stroke-linecap="round" points="262.7,348.5 299.9,348.1 321.4,347.3 334.9,345.8 339.7,344.6 343.4,343.2 346.6,341.3 349.5,338.7 351.7,335.6 353.8,331.5 355.5,326.5 356.9,320.5 358.3,312.2 359.5,302.9"/>
<polyline fill="none" stroke="#0049b6" stroke-width="3.5" stroke-linejoin="round" stroke-linecap="round" points="365.5,207.3 366.1,204.0 366.4,203.9 366.9,207.2"/>
<polyline fill="none" stroke="#0049b6" stroke-width="3.5" stroke-linejoin="round" stroke-linecap="round" points="372.9,302.8 375.2,319.0 377.8,329.2 379.5,333.4 381.2,336.5 383.2,339.0 385.8,341.3 388.7,343.0 392.1,344.4 396.1,345.5 401.0,346.3 414.2,347.5 434.5,348.2"/>
<g fill="#0049b6"><circle cx="359.8" cy="300.2" r="1.75"/><circle cx="360.1" cy="297.2" r="1.75"/><circle cx="360.3" cy="294.0" r="1.75"/><circle cx="360.6" cy="290.5" r="1.75"/><circle cx="360.9" cy="286.8" r="1.75"/><circle cx="361.2" cy="282.9" r="1.75"/><circle cx="361.5" cy="278.6" r="1.75"/><circle cx="361.8" cy="274.1" r="1.75"/><circle cx="362.1" cy="269.3" r="1.75"/><circle cx="362.3" cy="264.2" r="1.75"/><circle cx="362.6" cy="258.9" r="1.75"/><circle cx="362.9" cy="253.3" r="1.75"/><circle cx="363.2" cy="247.6" r="1.75"/><circle cx="363.5" cy="241.7" r="1.75"/><circle cx="363.8" cy="235.8" r="1.75"/><circle cx="364.1" cy="230.0" r="1.75"/><circle cx="364.3" cy="224.4" r="1.75"/><circle cx="364.6" cy="219.2" r="1.75"/><circle cx="364.9" cy="214.5" r="1.75"/><circle cx="365.2" cy="210.5" r="1.75"/><circle cx="367.2" cy="210.3" r="1.75"/><circle cx="367.5" cy="214.3" r="1.75"/><circle cx="367.8" cy="219.0" r="1.75"/><circle cx="368.1" cy="224.2" r="1.75"/><circle cx="368.4" cy="229.8" r="1.75"/><circle cx="368.6" cy="235.6" r="1.75"/><circle cx="368.9" cy="241.5" r="1.75"/><circle cx="369.2" cy="247.3" r="1.75"/><circle cx="369.5" cy="253.1" r="1.75"/><circle cx="369.8" cy="258.6" r="1.75"/><circle cx="370.1" cy="264.0" r="1.75"/><circle cx="370.4" cy="269.1" r="1.75"/><circle cx="370.6" cy="273.9" r="1.75"/><circle cx="370.9" cy="278.4" r="1.75"/><circle cx="371.2" cy="282.7" r="1.75"/><circle cx="371.5" cy="286.7" r="1.75"/><circle cx="371.8" cy="290.4" r="1.75"/><circle cx="372.1" cy="293.8" r="1.75"/><circle cx="372.4" cy="297.1" r="1.75"/><circle cx="372.7" cy="300.0" r="1.75"/></g>
<polyline fill="none" stroke="#0031c3" stroke-opacity="0.55" stroke-width="0.7" points="262.7,348.5 310.8,347.9 324.5,347.4 334.6,346.5 342.0,345.2 347.7,343.3 350.0,342.1 352.0,340.7 353.8,339.2 355.5,337.1 356.9,334.9 358.3,332.1 360.6,325.4 362.3,317.7 364.1,306.0 365.5,291.6 366.6,275.8 370.1,212.9 370.6,206.5 371.2,203.8 371.5,204.1 371.8,205.5 372.7,215.2 375.8,273.8 377.8,299.5 379.2,311.5 380.7,319.9 382.4,326.9 384.4,332.4 387.0,337.0 389.8,340.1 393.6,342.7 398.1,344.5 403.9,345.9 411.3,346.8 421.0,347.5 434.5,348.0"/>
<polyline fill="none" stroke="#0031c3" stroke-width="3.5" stroke-linejoin="round" stroke-linecap="round" points="262.7,348.5 302.2,348.1 324.8,347.3 338.9,345.8 343.7,344.7 347.7,343.3 351.2,341.4 354.0,338.9 356.6,335.4 358.6,331.4 360.3,326.4 361.8,320.6 363.2,312.4 364.3,303.5"/>
<polyline fill="none" stroke="#0031c3" stroke-width="3.5" stroke-linejoin="round" stroke-linecap="round" points="370.6,206.5 371.2,203.8 371.5,204.1 372.1,207.9"/>
<polyline fill="none" stroke="#0031c3" stroke-width="3.5" stroke-linejoin="round" stroke-linecap="round" points="378.1,302.3 380.1,316.9 382.7,327.9 384.4,332.4 386.1,335.7 388.1,338.4 390.4,340.6 393.0,342.4 396.1,343.8 399.9,345.0 404.4,346.0 416.5,347.3 434.5,348.0"/>
<g fill="#0031c3"><circle cx="364.6" cy="300.8" r="1.75"/><circle cx="364.9" cy="298.0" r="1.75"/><circle cx="365.2" cy="294.9" r="1.75"/><circle cx="365.5" cy="291.6" r="1.75"/><circle cx="365.8" cy="288.0" r="1.75"/><circle cx="366.1" cy="284.2" r="1.75"/><circle cx="366.4" cy="280.2" r="1.75"/><circle cx="366.6" cy="275.8" r="1.75"/><circle cx="366.9" cy="271.2" r="1.75"/><circle cx="367.2" cy="266.4" r="1.75"/><circle cx="367.5" cy="261.2" r="1.75"/><circle cx="367.8" cy="255.9" r="1.75"/><circle cx="368.1" cy="250.3" r="1.75"/><circle cx="368.4" cy="244.7" r="1.75"/><circle cx="368.6" cy="238.9" r="1.75"/><circle cx="368.9" cy="233.2" r="1.75"/><circle cx="369.2" cy="227.6" r="1.75"/><circle cx="369.5" cy="222.2" r="1.75"/><circle cx="369.8" cy="217.3" r="1.75"/><circle cx="370.1" cy="212.9" r="1.75"/><circle cx="370.4" cy="209.3" r="1.75"/><circle cx="372.4" cy="211.1" r="1.75"/><circle cx="372.7" cy="215.2" r="1.75"/><circle cx="372.9" cy="219.9" r="1.75"/><circle cx="373.2" cy="225.1" r="1.75"/><circle cx="373.5" cy="230.6" r="1.75"/><circle cx="373.8" cy="236.2" r="1.75"/><circle cx="374.1" cy="242.0" r="1.75"/><circle cx="374.4" cy="247.7" r="1.75"/><circle cx="374.7" cy="253.4" r="1.75"/><circle cx="374.9" cy="258.8" r="1.75"/><circle cx="375.2" cy="264.0" r="1.75"/><circle cx="375.5" cy="269.0" r="1.75"/><circle cx="375.8" cy="273.8" r="1.75"/><circle cx="376.1" cy="278.2" r="1.75"/><circle cx="376.4" cy="282.4" r="1.75"/><circle cx="376.7" cy="286.3" r="1.75"/><circle cx="376.9" cy="290.0" r="1.75"/><circle cx="377.2" cy="293.4" r="1.75"/><circle cx="377.5" cy="296.6" r="1.75"/><circle cx="377.8" cy="299.5" r="1.75"/></g>
<polyline fill="none" stroke="#0018cf" stroke-opacity="0.55" stroke-width="0.7" points="262.7,348.5 312.5,348.0 326.6,347.4 336.9,346.6 344.6,345.3 350.6,343.4 353.2,342.1 355.2,340.8 356.9,339.3 358.6,337.3 360.1,335.2 361.5,332.5 363.8,326.3 365.8,317.7 367.5,306.3 368.9,292.4 370.1,277.2 373.8,211.3 374.4,205.6 374.7,204.2 374.9,203.8 375.5,206.1 376.1,212.2 379.5,273.9 381.5,299.2 382.7,309.0 384.1,318.0 385.8,325.5 387.8,331.4 390.1,335.8 393.0,339.3 396.4,342.0 401.0,344.1 406.4,345.6 413.3,346.6 422.5,347.4 434.5,347.9"/>
<polyline fill="none" stroke="#0018cf" stroke-width="3.5" stroke-linejoin="round" stroke-linecap="round" points="262.7,348.5 303.6,348.2 327.1,347.4 341.7,345.9 346.9,344.7 350.9,343.3 354.6,341.2 357.5,338.7 360.1,335.2 362.1,331.2 363.8,326.3 365.5,319.2 368.1,301.3"/>
<polyline fill="none" stroke="#0018cf" stroke-width="3.5" stroke-linejoin="round" stroke-linecap="round" points="374.1,208.0 374.7,204.2 374.9,203.8 375.5,206.1"/>
<polyline fill="none" stroke="#0018cf" stroke-width="3.5" stroke-linejoin="round" stroke-linecap="round" points="381.8,301.9 383.8,316.5 386.4,327.5 387.8,331.4 389.5,334.9 391.6,337.8 393.8,340.1 396.4,342.0 399.3,343.4 402.7,344.7 407.0,345.7 417.9,347.0 434.5,347.9"/>
<g fill="#0018cf"><circle cx="368.4" cy="298.5" r="1.75"/><circle cx="368.6" cy="295.6" r="1.75"/><circle cx="368.9" cy="292.4" r="1.75"/><circle cx="369.2" cy="289.0" r="1.75"/><circle cx="369.5" cy="285.3" r="1.75"/><circle cx="369.8" cy="281.4" r="1.75"/><circle cx="370.1" cy="277.2" r="1.75"/><circle cx="370.4" cy="272.8" r="1.75"/><circle cx="370.6" cy="268.1" r="1.75"/><circle cx="370.9" cy="263.2" r="1.75"/><circle cx="371.2" cy="258.0" r="1.75"/><circle cx="371.5" cy="252.7" r="1.75"/><circle cx="371.8" cy="247.1" r="1.75"/><circle cx="372.1" cy="241.5" r="1.75"/><circle cx="372.4" cy="235.9" r="1.75"/><circle cx="372.7" cy="230.3" r="1.75"/><circle cx="372.9" cy="224.9" r="1.75"/><circle cx="373.2" cy="219.9" r="1.75"/><circle cx="373.5" cy="215.2" r="1.75"/><circle cx="373.8" cy="211.3" r="1.75"/><circle cx="375.8" cy="208.7" r="1.75"/><circle cx="376.1" cy="212.2" r="1.75"/><circle cx="376.4" cy="216.3" r="1.75"/><circle cx="376.7" cy="221.0" r="1.75"/><circle cx="376.9" cy="226.2" r="1.75"/><circle cx="377.2" cy="231.6" r="1.75"/><circle cx="377.5" cy="237.2" r="1.75"/><circle cx="377.8" cy="242.9" r="1.75"/><circle cx="378.1" cy="248.5" r="1.75"/><circle cx="378.4" cy="254.0" r="1.75"/><circle cx="378.7" cy="259.3" r="1.75"/><circle cx="379.0" cy="264.4" r="1.75"/><circle cx="379.2" cy="269.3" r="1.75"/><circle cx="379.5" cy="273.9" r="1.75"/><circle cx="379.8" cy="278.2" r="1.75"/><circle cx="380.1" cy="282.3" r="1.75"/><circle cx="380.4" cy="286.2" r="1.75"/><circle cx="380.7" cy="289.8" r="1.75"/><circle cx="381.0" cy="293.2" r="1.75"/><circle cx="381.2" cy="296.3" r="1.75"/><circle cx="381.5" cy="299.2" r="1.75"/></g>
<polyline fill="none" stroke="#0000db" stroke-opacity="0.55" stroke-width="0.7" points="262.7,348.5 313.4,348.0 328.0,347.4 338.3,346.6 346.0,345.3 352.0,343.5 354.3,342.5 356.6,341.0 358.6,339.4 360.3,337.5 363.2,332.9 364.6,329.6 365.8,326.1 367.8,317.6 369.5,306.5 370.6,296.0 371.8,282.3 375.5,217.4 376.4,206.8 376.9,203.9 377.2,203.9 377.5,205.0 378.4,213.4 381.5,269.8 383.8,299.1 385.0,308.8 386.4,317.7 388.1,325.2 389.8,330.4 392.1,335.1 395.0,338.8 398.4,341.6 402.4,343.6 407.6,345.2 414.5,346.4 423.0,347.2 434.5,347.8"/>
<polyline fill="none" stroke="#0000db" stroke-width="3.5" stroke-linejoin="round" stroke-linecap="round" points="262.7,348.5 304.8,348.1 328.6,347.4 343.2,345.9 348.3,344.8 352.6,343.3 356.3,341.2 359.5,338.5 362.1,335.0 364.1,331.0 365.8,326.1 367.5,319.1 370.1,301.6"/>
<polyline fill="none" stroke="#0000db" stroke-width="3.5" stroke-linejoin="round" stroke-linecap="round" points="376.4,206.8 376.9,203.9 377.2,203.9 377.8,206.9"/>
<polyline fill="none" stroke="#0000db" stroke-width="3.5" stroke-linejoin="round" stroke-linecap="round" points="384.1,301.8 386.1,316.1 388.7,327.1 390.1,331.1 391.8,334.6 393.8,337.5 395.8,339.7 398.4,341.6 401.3,343.2 408.4,345.4 419.0,346.9 434.5,347.8"/>
<g fill="#0000db"><circle cx="370.4" cy="298.9" r="1.75"/><circle cx="370.6" cy="296.0" r="1.75"/><circle cx="370.9" cy="292.9" r="1.75"/><circle cx="371.2" cy="289.6" r="1.75"/><circle cx="371.5" cy="286.1" r="1.75"/><circle cx="371.8" cy="282.3" r="1.75"/><circle cx="372.1" cy="278.3" r="1.75"/><circle cx="372.4" cy="274.0" r="1.75"/><circle cx="372.7" cy="269.5" r="1.75"/><circle cx="372.9" cy="264.7" r="1.75"/><circle cx="373.2" cy="259.7" r="1.75"/><circle cx="373.5" cy="254.5" r="1.75"/><circle cx="373.8" cy="249.2" r="1.75"/><circle cx="374.1" cy="243.7" r="1.75"/><circle cx="374.4" cy="238.1" r="1.75"/><circle cx="374.7" cy="232.6" r="1.75"/><circle cx="374.9" cy="227.3" r="1.75"/><circle cx="375.2" cy="222.1" r="1.75"/><circle cx="375.5" cy="217.4" r="1.75"/><circle cx="375.8" cy="213.2" r="1.75"/><circle cx="376.1" cy="209.6" r="1.75"/><circle cx="378.1" cy="209.8" r="1.75"/><circle cx="378.4" cy="213.4" r="1.75"/><circle cx="378.7" cy="217.7" r="1.75"/><circle cx="379.0" cy="222.4" r="1.75"/><circle cx="379.2" cy="227.6" r="1.75"/><circle cx="379.5" cy="233.0" r="1.75"/><circle cx="379.8" cy="238.5" r="1.75"/><circle cx="380.1" cy="244.0" r="1.75"/><circle cx="380.4" cy="249.5" r="1.75"/><circle cx="380.7" cy="254.8" r="1.75"/><circle cx="381.0" cy="260.0" r="1.75"/><circle cx="381.2" cy="265.0" r="1.75"/><circle cx="381.5" cy="269.8" r="1.75"/><circle cx="381.8" cy="274.3" r="1.75"/><circle cx="382.1" cy="278.5" r="1.75"/><circle cx="382.4" cy="282.5" r="1.75"/><circle cx="382.7" cy="286.3" r="1.75"/><circle cx="383.0" cy="289.8" r="1.75"/><circle cx="383.2" cy="293.1" r="1.75"/><circle cx="383.5" cy="296.2" r="1.75"/><circle cx="383.8" cy="299.1" r="1.75"/></g>
<text x="8.0" y="191.2" font-family="'Liberation Serif', 'Times New Roman', serif" font-size="20.5" fill="#111" stroke="#111" stroke-width="0.35" textLength="26.5" lengthAdjust="spacingAndGlyphs">(b)</text>
<text x="229.6" y="194.3" font-family="'Liberation Serif', 'Times New Roman', serif" font-size="20.5" fill="#111" stroke="#111" stroke-width="0.35" textLength="24.6" lengthAdjust="spacingAndGlyphs">(c)</text>
<text transform="translate(19.0,331.6) rotate(-90)" font-family="'Liberation Serif', 'Times New Roman', serif" font-size="21" fill="#111" stroke="#111" stroke-width="0.5" textLength="49.5" lengthAdjust="spacingAndGlyphs">Amp.</text>
<text transform="translate(19.0,270.4) rotate(-90)" font-family="'Liberation Serif', 'Times New Roman', serif" font-size="21" fill="#111" stroke="#111" stroke-width="0.5" textLength="49.6" lengthAdjust="spacingAndGlyphs">(arb.)</text>
<text transform="translate(243.0,331.6) rotate(-90)" font-family="'Liberation Serif', 'Times New Roman', serif" font-size="21" fill="#111" stroke="#111" stroke-width="0.5" textLength="49.5" lengthAdjust="spacingAndGlyphs">Amp.</text>
<text transform="translate(243.0,270.4) rotate(-90)" font-family="'Liberation Serif', 'Times New Roman', serif" font-size="21" fill="#111" stroke="#111" stroke-width="0.5" textLength="49.6" lengthAdjust="spacingAndGlyphs">(arb.)</text>
<text x="73.40" y="377.4" font-family="'Liberation Serif', 'Times New Roman', serif" font-size="19" fill="#111"  textLength="14.76" lengthAdjust="spacingAndGlyphs">Δ</text>
<text x="89.00" y="382" font-family="'Liberation Serif', 'Times New Roman', serif" font-size="30" fill="#111"  textLength="8.93" lengthAdjust="spacingAndGlyphs">/</text>
<text x="98.70" y="377.4" font-family="'Liberation Serif', 'Times New Roman', serif" font-size="19.5" fill="#111"  textLength="9.17" lengthAdjust="spacingAndGlyphs">2</text>
<text x="107.00" y="377.4" font-family="'Liberation Serif', 'Times New Roman', serif" font-size="19.5" fill="#111" font-style="italic" textLength="9.68" lengthAdjust="spacingAndGlyphs">π</text>
<text x="126.90" y="377.2" font-family="'Liberation Serif', 'Times New Roman', serif" font-size="20" fill="#111" stroke="#111" stroke-width="0.4" textLength="6.36" lengthAdjust="spacingAndGlyphs">(</text>
<text x="133.80" y="376.8" font-family="'Liberation Serif', 'Times New Roman', serif" font-size="18.5" fill="#111" stroke="#111" stroke-width="0.5" textLength="37.79" lengthAdjust="spacingAndGlyphs">kHz</text>
<text x="172.20" y="377.2" font-family="'Liberation Serif', 'Times New Roman', serif" font-size="20" fill="#111" stroke="#111" stroke-width="0.4" textLength="6.78" lengthAdjust="spacingAndGlyphs">)</text>
<text x="295.40" y="377.4" font-family="'Liberation Serif', 'Times New Roman', serif" font-size="19" fill="#111"  textLength="14.76" lengthAdjust="spacingAndGlyphs">Δ</text>
<text x="311.00" y="382" font-family="'Liberation Serif', 'Times New Roman', serif" font-size="30" fill="#111"  textLength="8.93" lengthAdjust="spacingAndGlyphs">/</text>
<text x="320.70" y="377.4" font-family="'Liberation Serif', 'Times New Roman', serif" font-size="19.5" fill="#111"  textLength="9.17" lengthAdjust="spacingAndGlyphs">2</text>
<text x="329.00" y="377.4" font-family="'Liberation Serif', 'Times New Roman', serif" font-size="19.5" fill="#111" font-style="italic" textLength="9.68" lengthAdjust="spacingAndGlyphs">π</text>
<text x="348.90" y="377.2" font-family="'Liberation Serif', 'Times New Roman', serif" font-size="20" fill="#111" stroke="#111" stroke-width="0.4" textLength="6.36" lengthAdjust="spacingAndGlyphs">(</text>
<text x="355.80" y="376.8" font-family="'Liberation Serif', 'Times New Roman', serif" font-size="18.5" fill="#111" stroke="#111" stroke-width="0.5" textLength="37.79" lengthAdjust="spacingAndGlyphs">kHz</text>
<text x="394.20" y="377.2" font-family="'Liberation Serif', 'Times New Roman', serif" font-size="20" fill="#111" stroke="#111" stroke-width="0.4" textLength="6.78" lengthAdjust="spacingAndGlyphs">)</text>
<defs><linearGradient id="wg" x1="0" y1="1" x2="0" y2="0"><stop offset="0.0000" stop-color="#0000ff"/><stop offset="0.0156" stop-color="#0000ff"/><stop offset="0.0156" stop-color="#0004fd"/><stop offset="0.0312" stop-color="#0004fd"/><stop offset="0.0312" stop-color="#0008fb"/><stop offset="0.0469" stop-color="#0008fb"/><stop offset="0.0469" stop-color="#000cf9"/><stop offset="0.0625" stop-color="#000cf9"/><stop offset="0.0625" stop-color="#0010f7"/><stop offset="0.0781" stop-color="#0010f7"/><stop offset="0.0781" stop-color="#0014f5"/><stop offset="0.0938" stop-color="#0014f5"/><stop offset="0.0938" stop-color="#0018f3"/><stop offset="0.1094" stop-color="#0018f3"/><stop offset="0.1094" stop-color="#001cf1"/><stop offset="0.1250" stop-color="#001cf1"/><stop offset="0.1250" stop-color="#0020ef"/><stop offset="0.1406" stop-color="#0020ef"/><stop offset="0.1406" stop-color="#0024ed"/><stop offset="0.1562" stop-color="#0024ed"/><stop offset="0.1562" stop-color="#0028eb"/><stop offset="0.1719" stop-color="#0028eb"/><stop offset="0.1719" stop-color="#002de9"/><stop offset="0.1875" stop-color="#002de9"/><stop offset="0.1875" stop-color="#0031e7"/><stop offset="0.2031" stop-color="#0031e7"/><stop offset="0.2031" stop-color="#0035e5"/><stop offset="0.2188" stop-color="#0035e5"/><stop offset="0.2188" stop-color="#0039e3"/><stop offset="0.2344" stop-color="#0039e3"/><stop offset="0.2344" stop-color="#003de1"/><stop offset="0.2500" stop-color="#003de1"/><stop offset="0.2500" stop-color="#0041df"/><stop offset="0.2656" stop-color="#0041df"/><stop offset="0.2656" stop-color="#0045dd"/><stop offset="0.2812" stop-color="#0045dd"/><stop offset="0.2812" stop-color="#0049db"/><stop offset="0.2969" stop-color="#0049db"/><stop offset="0.2969" stop-color="#004dd9"/><stop offset="0.3125" stop-color="#004dd9"/><stop offset="0.3125" stop-color="#0051d7"/><stop offset="0.3281" stop-color="#0051d7"/><stop offset="0.3281" stop-color="#0055d4"/><stop offset="0.3438" stop-color="#0055d4"/><stop offset="0.3438" stop-color="#0059d2"/><stop offset="0.3594" stop-color="#0059d2"/><stop offset="0.3594" stop-color="#005dd0"/><stop offset="0.3750" stop-color="#005dd0"/><stop offset="0.3750" stop-color="#0061ce"/><stop offset="0.3906" stop-color="#0061ce"/><stop offset="0.3906" stop-color="#0065cc"/><stop offset="0.4062" stop-color="#0065cc"/><stop offset="0.4062" stop-color="#0069ca"/><stop offset="0.4219" stop-color="#0069ca"/><stop offset="0.4219" stop-color="#006dc8"/><stop offset="0.4375" stop-color="#006dc8"/><stop offset="0.4375" stop-color="#0071c6"/><stop offset="0.4531" stop-color="#0071c6"/><stop offset="0.4531" stop-color="#0075c4"/><stop offset="0.4688" stop-color="#0075c4"/><stop offset="0.4688" stop-color="#0079c2"/><stop offset="0.4844" stop-color="#0079c2"/><stop offset="0.4844" stop-color="#007dc0"/><stop offset="0.5000" stop-color="#007dc0"/><stop offset="0.5000" stop-color="#0082be"/><stop offset="0.5156" stop-color="#0082be"/><stop offset="0.5156" stop-color="#0086bc"/><stop offset="0.5312" stop-color="#0086bc"/><stop offset="0.5312" stop-color="#008aba"/><stop offset="0.5469" stop-color="#008aba"/><stop offset="0.5469" stop-color="#008eb8"/><stop offset="0.5625" stop-color="#008eb8"/><stop offset="0.5625" stop-color="#0092b6"/><stop offset="0.5781" stop-color="#0092b6"/><stop offset="0.5781" stop-color="#0096b4"/><stop offset="0.5938" stop-color="#0096b4"/><stop offset="0.5938" stop-color="#009ab2"/><stop offset="0.6094" stop-color="#009ab2"/><stop offset="0.6094" stop-color="#009eb0"/><stop offset="0.6250" stop-color="#009eb0"/><stop offset="0.6250" stop-color="#00a2ae"/><stop offset="0.6406" stop-color="#00a2ae"/><stop offset="0.6406" stop-color="#00a6ac"/><stop offset="0.6562" stop-color="#00a6ac"/><stop offset="0.6562" stop-color="#00aaaa"/><stop offset="0.6719" stop-color="#00aaaa"/><stop offset="0.6719" stop-color="#00aea8"/><stop offset="0.6875" stop-color="#00aea8"/><stop offset="0.6875" stop-color="#00b2a6"/><stop offset="0.7031" stop-color="#00b2a6"/><stop offset="0.7031" stop-color="#00b6a4"/><stop offset="0.7188" stop-color="#00b6a4"/><stop offset="0.7188" stop-color="#00baa2"/><stop offset="0.7344" stop-color="#00baa2"/><stop offset="0.7344" stop-color="#00bea0"/><stop offset="0.7500" stop-color="#00bea0"/><stop offset="0.7500" stop-color="#00c29e"/><stop offset="0.7656" stop-color="#00c29e"/><stop offset="0.7656" stop-color="#00c69c"/><stop offset="0.7812" stop-color="#00c69c"/><stop offset="0.7812" stop-color="#00ca9a"/><stop offset="0.7969" stop-color="#00ca9a"/><stop offset="0.7969" stop-color="#00ce98"/><stop offset="0.8125" stop-color="#00ce98"/><stop offset="0.8125" stop-color="#00d296"/><stop offset="0.8281" stop-color="#00d296"/><stop offset="0.8281" stop-color="#00d794"/><stop offset="0.8438" stop-color="#00d794"/><stop offset="0.8438" stop-color="#00db92"/><stop offset="0.8594" stop-color="#00db92"/><stop offset="0.8594" stop-color="#00df90"/><stop offset="0.8750" stop-color="#00df90"/><stop offset="0.8750" stop-color="#00e38e"/><stop offset="0.8906" stop-color="#00e38e"/><stop offset="0.8906" stop-color="#00e78c"/><stop offset="0.9062" stop-color="#00e78c"/><stop offset="0.9062" stop-color="#00eb8a"/><stop offset="0.9219" stop-color="#00eb8a"/><stop offset="0.9219" stop-color="#00ef88"/><stop offset="0.9375" stop-color="#00ef88"/><stop offset="0.9375" stop-color="#00f386"/><stop offset="0.9531" stop-color="#00f386"/><stop offset="0.9531" stop-color="#00f784"/><stop offset="0.9688" stop-color="#00f784"/><stop offset="0.9688" stop-color="#00fb82"/><stop offset="0.9844" stop-color="#00fb82"/><stop offset="0.9844" stop-color="#00ff80"/><stop offset="1.0000" stop-color="#00ff80"/></linearGradient></defs>
<rect x="450.6" y="36.3" width="16.2" height="262.4" fill="url(#wg)"/>
<g font-family="'Liberation Sans', Arial, sans-serif" font-size="12.2" fill="#262626" stroke="#262626" stroke-width="0.2">
<text x="471.0" y="273.94">50</text>
<text x="471.0" y="215.63">100</text>
<text x="471.0" y="157.32">150</text>
<text x="471.0" y="99.01">200</text>
<text x="471.0" y="40.70">250</text>
</g>
<line x1="464.6" y1="269.54" x2="466.8" y2="269.54" stroke="#3a3a3a" stroke-width="0.8"/>
<line x1="464.6" y1="211.23" x2="466.8" y2="211.23" stroke="#3a3a3a" stroke-width="0.8"/>
<line x1="464.6" y1="152.92" x2="466.8" y2="152.92" stroke="#3a3a3a" stroke-width="0.8"/>
<line x1="464.6" y1="94.61" x2="466.8" y2="94.61" stroke="#3a3a3a" stroke-width="0.8"/>
<text transform="translate(514.5,315.3) rotate(-90)" font-family="'Liberation Serif', 'Times New Roman', serif" font-size="23.5" fill="#111" stroke="#111" stroke-width="0.5" textLength="38.5" lengthAdjust="spacingAndGlyphs">DC</text>
<text transform="translate(514.5,268.2) rotate(-90)" font-family="'Liberation Serif', 'Times New Roman', serif" font-size="23.5" fill="#111" stroke="#111" stroke-width="0.5" textLength="85.5" lengthAdjust="spacingAndGlyphs">Driving</text>
<text transform="translate(514.5,173.3) rotate(-90)" font-family="'Liberation Serif', 'Times New Roman', serif" font-size="23.5" fill="#111" stroke="#111" stroke-width="0.5" textLength="84.5" lengthAdjust="spacingAndGlyphs">Voltage</text>
<text transform="translate(514.5,80.0) rotate(-90)" font-family="'Liberation Serif', 'Times New Roman', serif" font-size="23.5" fill="#111" textLength="58.5" lengthAdjust="spacingAndGlyphs">(<tspan font-style="italic">V</tspan><tspan font-style="italic" font-size="16" dy="4">DC</tspan><tspan dy="-4">)</tspan></text>
</svg>
</body></html>
